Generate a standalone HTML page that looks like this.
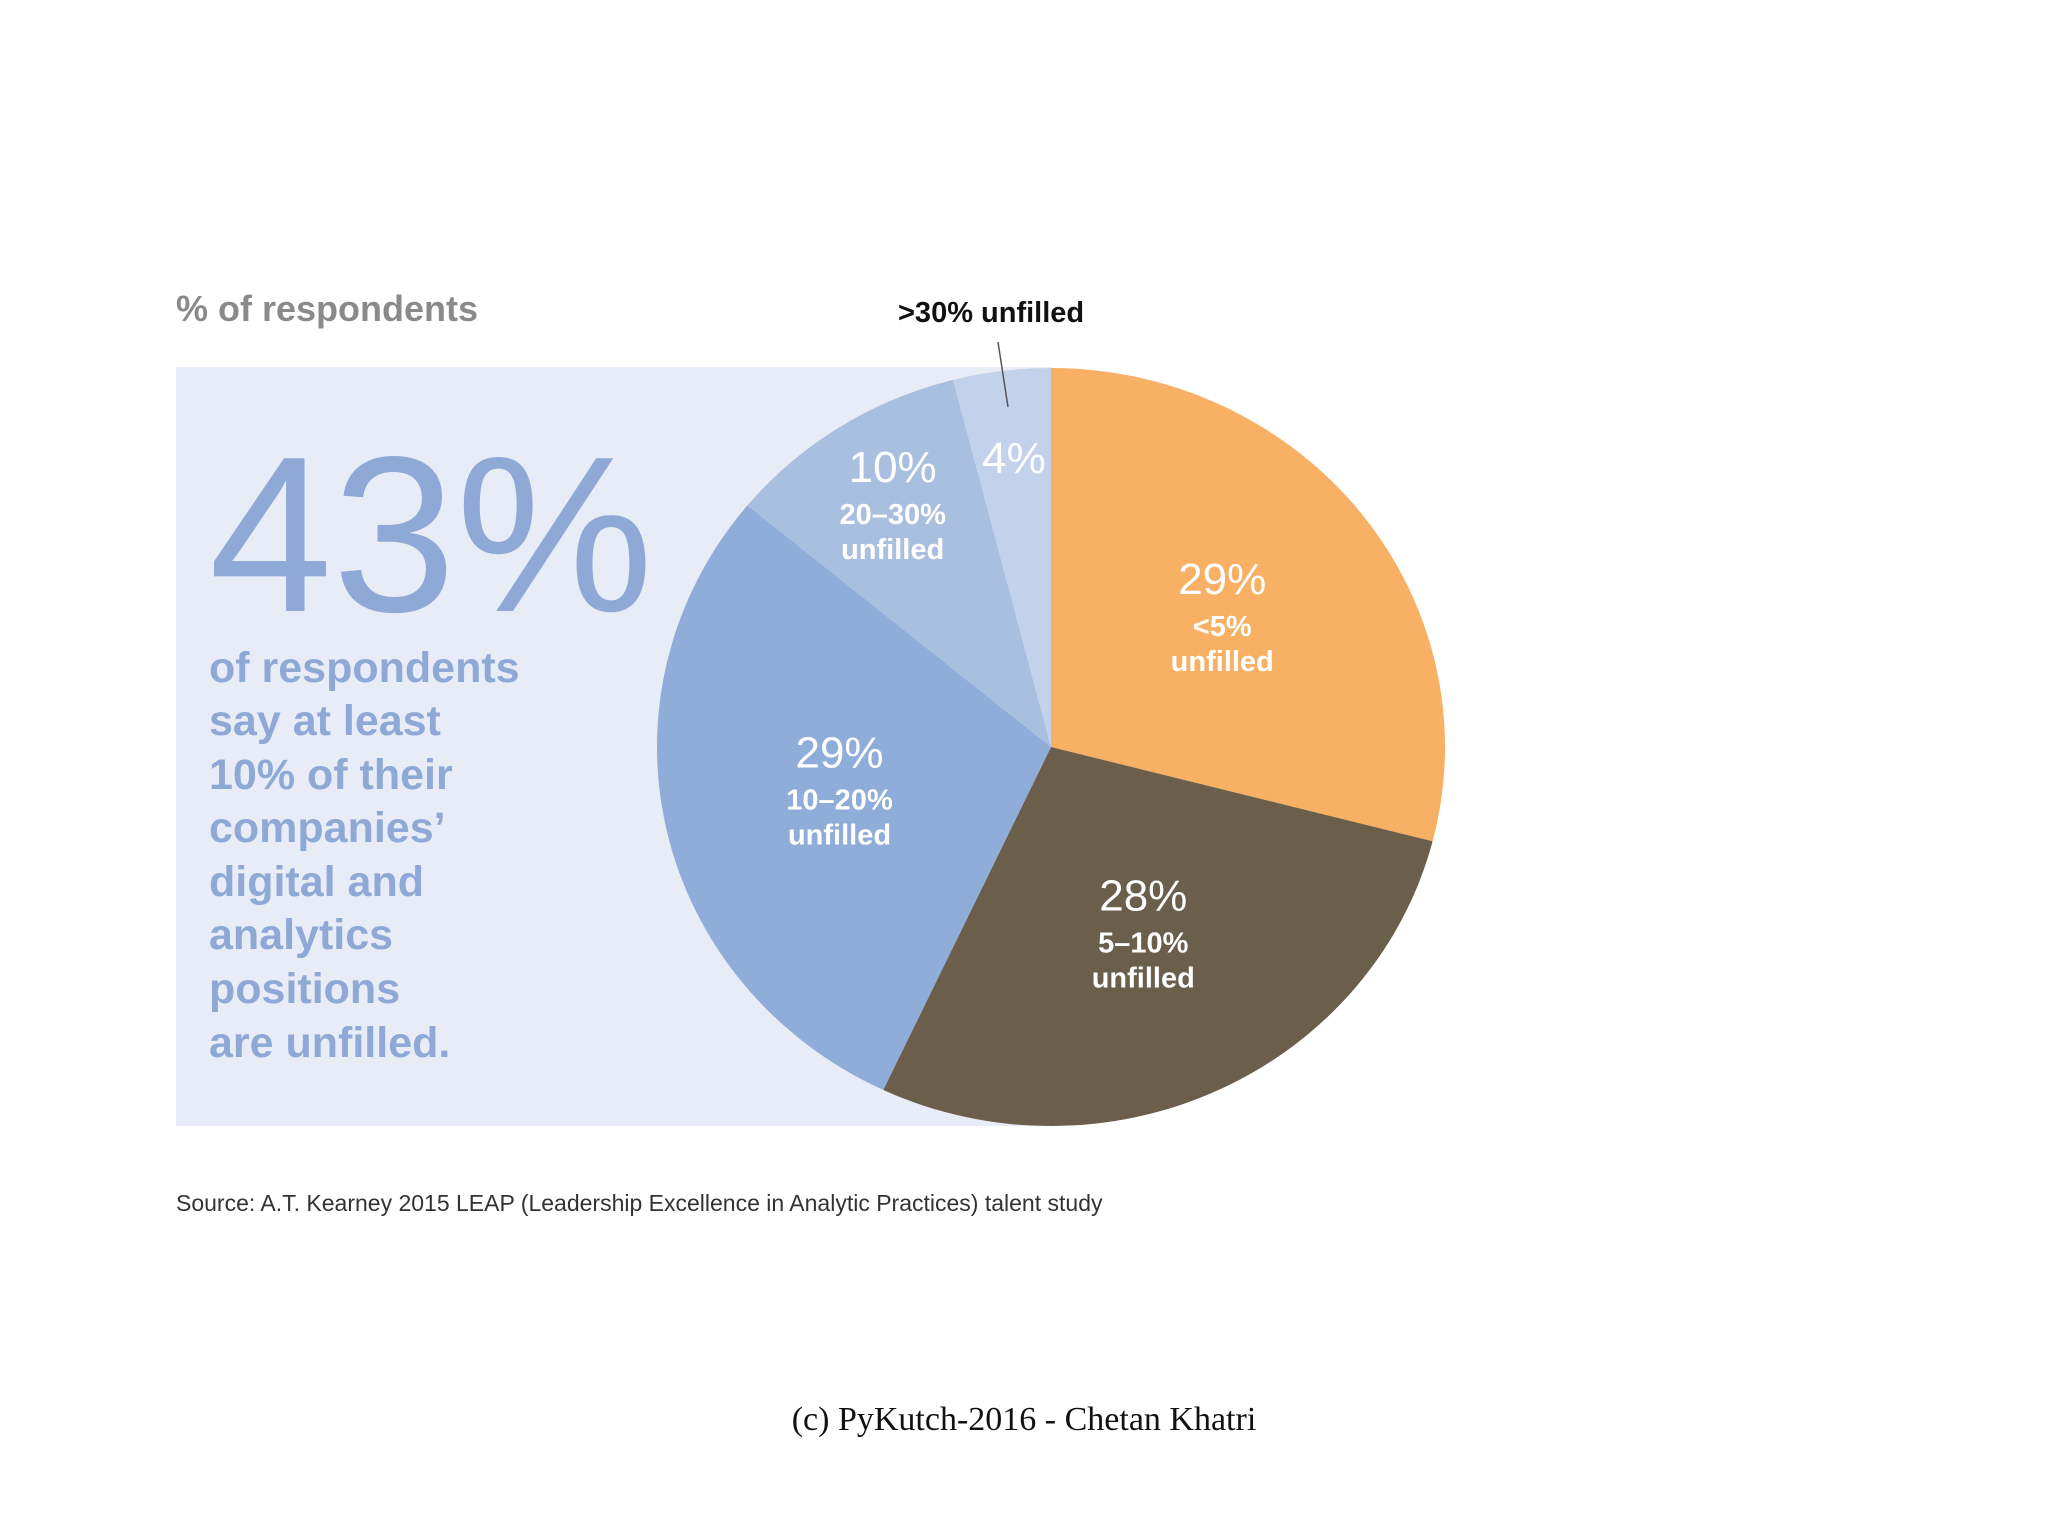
<!DOCTYPE html>
<html><head><meta charset="utf-8"><style>
html,body{margin:0;padding:0;background:#fff;}
svg{display:block;}
</style></head><body>
<svg width="2048" height="1535" viewBox="0 0 2048 1535" xmlns="http://www.w3.org/2000/svg">
<rect x="176" y="367" width="875" height="759" fill="#E8ECF6"/>
<text x="176" y="321" font-family="Liberation Sans, sans-serif" font-weight="bold" font-size="36" fill="#8a8a8a">% of respondents</text>
<text x="209" y="611" font-family="Liberation Sans, sans-serif" font-size="222" fill="#8EA9D6">43%</text>
<g font-family="Liberation Sans, sans-serif" font-weight="bold" font-size="43" fill="#8EA9D6">
<text x="209" y="682">of respondents</text>
<text x="209" y="735">say at least</text>
<text x="209" y="789">10% of their</text>
<text x="209" y="842">companies’</text>
<text x="209" y="896">digital and</text>
<text x="209" y="949">analytics</text>
<text x="209" y="1003">positions</text>
<text x="209" y="1057">are unfilled.</text>
</g>
<g id="pie"></g>
<text x="898" y="322" font-family="Liberation Sans, sans-serif" font-weight="bold" font-size="29" fill="#111">&gt;30% unfilled</text>
<line x1="998" y1="342" x2="1008" y2="407" stroke="#555" stroke-width="1.5"/>
<text x="176" y="1211" font-family="Liberation Sans, sans-serif" font-size="23" fill="#333">Source: A.T. Kearney 2015 LEAP (Leadership Excellence in Analytic Practices) talent study</text>
<text x="1024" y="1430" text-anchor="middle" font-family="Liberation Serif, serif" font-size="34" fill="#111">(c) PyKutch-2016 - Chetan Khatri</text>
</svg>
<script>
const categories = ["<5% unfilled", "5–10% unfilled", "10–20% unfilled", "20–30% unfilled", ">30% unfilled"];
const values = [29, 28, 29, 10, 4];
const subLabels = ["<5%", "5–10%", "10–20%", "20–30%", ""];
const colors = ["#F8B064", "#6B5E4A", "#8FADD8", "#A9BFE0", "#C3D2EB"];

const cx = 1051, cy = 747, rx = 394, ry = 379;
const NS = "http://www.w3.org/2000/svg";
const pie = document.getElementById("pie");
const total = values.reduce((a, b) => a + b, 0);
function pt(angle, f) { return [cx + Math.sin(angle) * rx * f, cy - Math.cos(angle) * ry * f]; }
let acc = 0;
values.forEach((v, i) => {
  const a0 = acc / total * 2 * Math.PI;
  acc += v;
  const a1 = acc / total * 2 * Math.PI;
  const p0 = pt(a0, 1), p1 = pt(a1, 1);
  const large = (a1 - a0) > Math.PI ? 1 : 0;
  const path = document.createElementNS(NS, "path");
  path.setAttribute("d", `M${cx},${cy} L${p0[0]},${p0[1]} A${rx},${ry} 0 ${large} 1 ${p1[0]},${p1[1]} Z`);
  path.setAttribute("fill", colors[i]);
  
  
  pie.appendChild(path);
  const mid = (a0 + a1) / 2;
  const f = v < 15 ? 0.75 : 0.55;
  const c = pt(mid, f);
  const g = document.createElementNS(NS, "g");
  
  
  g.setAttribute("font-family", "Liberation Sans, sans-serif");
  g.setAttribute("fill", "#fff");
  g.setAttribute("text-anchor", "middle");
  const big = document.createElementNS(NS, "text");
  big.setAttribute("x", c[0]);
  big.setAttribute("font-size", "44");
  big.textContent = v + "%";
  g.appendChild(big);
  if (subLabels[i]) {
    big.setAttribute("y", c[1] - 25);
    const t1 = document.createElementNS(NS, "text");
    t1.setAttribute("x", c[0]); t1.setAttribute("y", c[1] + 17);
    t1.setAttribute("font-size", "29"); t1.setAttribute("font-weight", "bold");
    t1.textContent = subLabels[i];
    g.appendChild(t1);
    const t2 = document.createElementNS(NS, "text");
    t2.setAttribute("x", c[0]); t2.setAttribute("y", c[1] + 52);
    t2.setAttribute("font-size", "29"); t2.setAttribute("font-weight", "bold");
    t2.textContent = "unfilled";
    g.appendChild(t2);
  } else {
    big.setAttribute("y", c[1] + 8);
  }
  pie.appendChild(g);
});
</script>
</body></html>
